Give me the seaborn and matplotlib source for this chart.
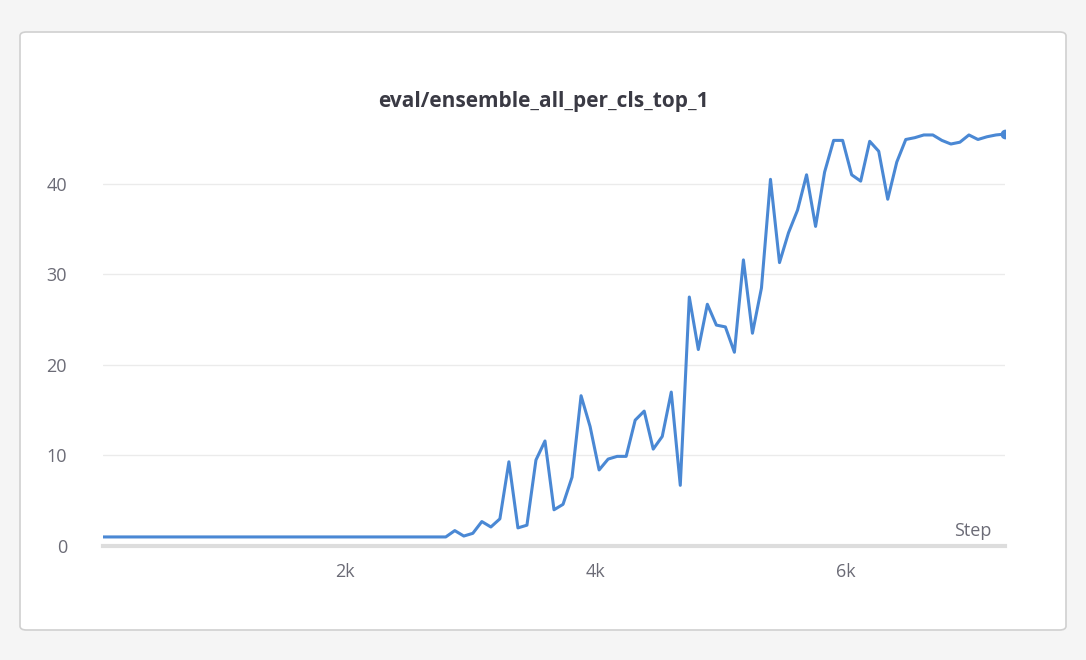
import numpy as np
import pandas as pd
import matplotlib
matplotlib.use("Agg")
import matplotlib.pyplot as plt
import seaborn as sns
from matplotlib.patches import FancyBboxPatch

# ------------------------
# data
# ------------------------
step_size = 72
values = [1.0] * 38 + [
    1.0, 1.7, 1.1, 1.4, 2.7, 2.1, 3.0, 9.3, 2.0, 2.3, 9.5, 11.6, 4.0, 4.6, 7.6,
    16.6, 13.2, 8.4, 9.6, 9.9, 9.9, 13.9, 14.9, 10.7, 12.1, 17.0, 6.7, 27.5,
    21.7, 26.7, 24.4, 24.2, 21.4, 31.6, 23.5, 28.5, 40.5, 31.3, 34.6, 37.1,
    41.0, 35.3, 41.3, 44.8, 44.8, 41.0, 40.3, 44.7, 43.6, 38.3, 42.4, 44.9,
    45.1, 45.4, 45.4, 44.8, 44.4, 44.6, 45.4, 44.9, 45.2, 45.4, 45.5,
]
steps = np.arange(1, len(values) + 1) * step_size
x_ticks = [2000, 4000, 6000]
x_labels = ["2k", "4k", "6k"]
y_ticks = [0, 10, 20, 30, 40]

df = pd.DataFrame({"Step": steps, "value": values})

# ------------------------
# plot
# ------------------------
sns.set_style("white")
plt.rcParams["font.family"] = ["Open Sans", "DejaVu Sans"]

fig = plt.figure(figsize=(10.86, 6.6), dpi=100)
fig.patch.set_facecolor("#f5f5f5")
card = FancyBboxPatch((20 / 1086, 30 / 660), 1046 / 1086, 598 / 660,
                      boxstyle="round,pad=0,rounding_size=0.006",
                      transform=fig.transFigure, facecolor="white",
                      edgecolor="#d0d0d0", linewidth=1.2, zorder=-10)
fig.patches.append(card)

ax = fig.add_axes([103 / 1086, 114 / 660, 902 / 1086, 421 / 660])
ax.set_zorder(1)
ax.patch.set_alpha(0)
sns.lineplot(data=df, x="Step", y="value", ax=ax, color="#4a88d4", linewidth=2.2)
ax.plot(df["Step"].iloc[-1], df["value"].iloc[-1], "o", color="#4a88d4", markersize=6)

ax.set_xlim(steps[0], steps[-1])
ax.set_ylim(0, 46.5)
ax.set_xticks(x_ticks)
ax.set_xticklabels(x_labels)
ax.set_yticks(y_ticks)
ax.yaxis.grid(True, color="#ebebeb", linewidth=1)
ax.set_axisbelow(True)
for s in ["top", "right", "left"]:
    ax.spines[s].set_visible(False)
ax.spines["bottom"].set_color("#dddddd")
ax.spines["bottom"].set_linewidth(3)
ax.tick_params(axis="x", length=6, width=1.5, color="#dddddd", labelsize=13, labelcolor="#6b6b76", pad=6)
ax.tick_params(axis="y", length=0, labelsize=13, labelcolor="#6b6b76", pad=26)
for t in ax.get_yticklabels():
    t.set_horizontalalignment("right")
ax.set_xlabel("")
ax.set_ylabel("")
ax.text(0.985, 0.015, "Step", transform=ax.transAxes, ha="right", va="bottom",
        fontsize=13, color="#6b6b76")

fig.text(0.5, 1 - 102 / 660, "eval/ensemble_all_per_cls_top_1", ha="center", va="center",
         fontsize=15, fontweight="bold", color="#3a3a44")

fig.savefig("out.png", dpi=100, facecolor=fig.get_facecolor())
